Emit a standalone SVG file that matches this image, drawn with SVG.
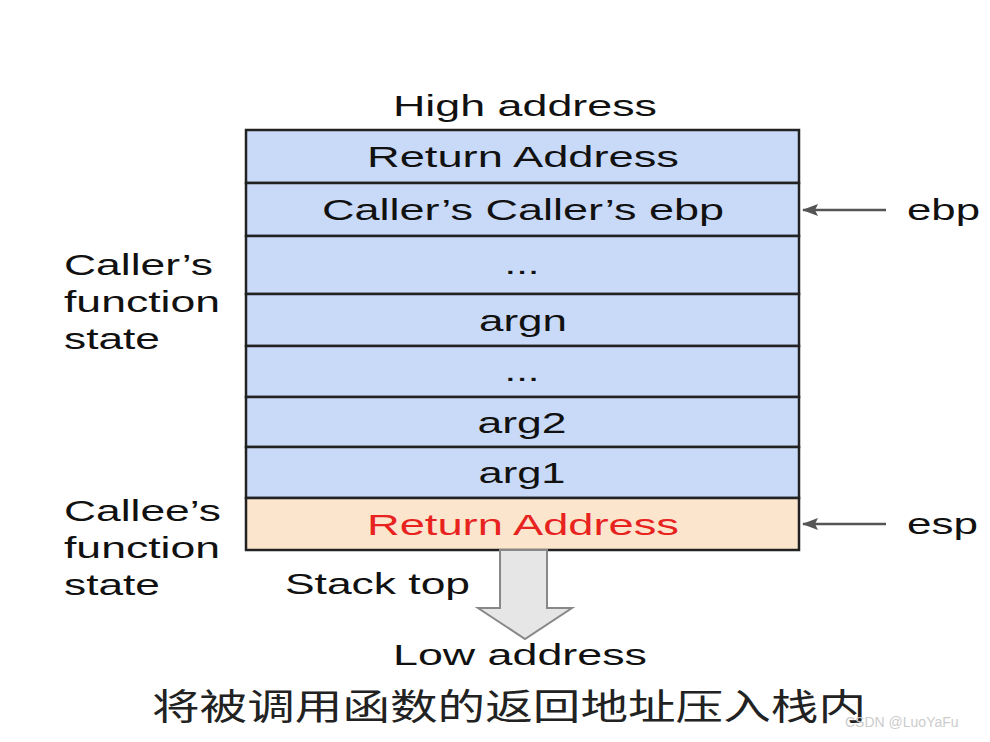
<svg xmlns="http://www.w3.org/2000/svg" width="990" height="742" viewBox="0 0 990 742">
<style>
text{font-family:"Liberation Sans",Arial,sans-serif;font-size:30px;fill:#111}
.c{text-anchor:middle}
.row{fill:#c9daf8;stroke:#222;stroke-width:2.5}
</style>
<defs><marker id="ah" markerWidth="16" markerHeight="12" refX="15" refY="6" orient="auto" markerUnits="userSpaceOnUse"><path d="M0,0 L16,6 L0,12 L3,6 Z" fill="#555"/></marker></defs>
<rect width="990" height="742" fill="#fff"/>
<text class="c" x="525" y="116" textLength="264" lengthAdjust="spacingAndGlyphs">High address</text>
<g id="r1"><rect class="row" x="246" y="130" width="553" height="53"/><text class="c" x="523" y="167" textLength="312" lengthAdjust="spacingAndGlyphs">Return Address</text></g>
<g id="r2"><rect class="row" x="246" y="183" width="553" height="53"/><text class="c" x="523" y="220" textLength="402" lengthAdjust="spacingAndGlyphs">Caller’s Caller’s ebp</text></g>
<g id="r3"><rect class="row" x="246" y="236" width="553" height="58"/><text class="c" x="522" y="274" textLength="35" lengthAdjust="spacingAndGlyphs">...</text></g>
<g id="r4"><rect class="row" x="246" y="294" width="553" height="52"/><text class="c" x="523" y="331" textLength="88" lengthAdjust="spacingAndGlyphs">argn</text></g>
<g id="r5"><rect class="row" x="246" y="346" width="553" height="51"/><text class="c" x="522" y="381" textLength="35" lengthAdjust="spacingAndGlyphs">...</text></g>
<g id="r6"><rect class="row" x="246" y="397" width="553" height="50"/><text class="c" x="522" y="433" textLength="89" lengthAdjust="spacingAndGlyphs">arg2</text></g>
<g id="r7"><rect class="row" x="246" y="447" width="553" height="51"/><text class="c" x="522" y="483" textLength="87" lengthAdjust="spacingAndGlyphs">arg1</text></g>
<g id="r8"><rect x="246" y="498" width="553" height="52" fill="#fce5cd" stroke="#222" stroke-width="2.5"/><text class="c" x="523" y="535" textLength="312" lengthAdjust="spacingAndGlyphs" style="fill:#e8231f">Return Address</text></g>
<g id="lbl1"><text x="64" y="275" textLength="149" lengthAdjust="spacingAndGlyphs">Caller’s</text><text x="64" y="312" textLength="156" lengthAdjust="spacingAndGlyphs">function</text><text x="64" y="349" textLength="96" lengthAdjust="spacingAndGlyphs">state</text></g>
<g id="lbl2"><text x="64" y="521" textLength="157" lengthAdjust="spacingAndGlyphs">Callee’s</text><text x="64" y="558" textLength="156" lengthAdjust="spacingAndGlyphs">function</text><text x="64" y="595" textLength="96" lengthAdjust="spacingAndGlyphs">state</text></g>
<g id="arrow"><path d="M500,550 L547,550 L547,608 L572,608 L525,639 L478,608 L500,608 Z" fill="#e6e6e6" stroke="#888" stroke-width="2"/></g>
<text x="285" y="594" textLength="185" lengthAdjust="spacingAndGlyphs">Stack top</text>
<text class="c" x="520" y="665" textLength="254" lengthAdjust="spacingAndGlyphs">Low address</text>
<g id="connectors">
<line x1="886" y1="210" x2="803" y2="210" stroke="#555" stroke-width="2.5" marker-end="url(#ah)"/>
<line x1="886" y1="524" x2="803" y2="524" stroke="#555" stroke-width="2.5" marker-end="url(#ah)"/>
</g>
<text x="907" y="220" textLength="73" lengthAdjust="spacingAndGlyphs">ebp</text>
<text x="907" y="534" textLength="71" lengthAdjust="spacingAndGlyphs">esp</text>
<text class="c" x="509" y="720" textLength="714" lengthAdjust="spacingAndGlyphs" style="font-family:'Noto Sans CJK SC',sans-serif;font-size:36px;fill:#222">将被调用函数的返回地址压入栈内</text>
<text x="845" y="727" style="font-size:14px;fill:#ccc">CSDN @LuoYaFu</text>
</svg>
